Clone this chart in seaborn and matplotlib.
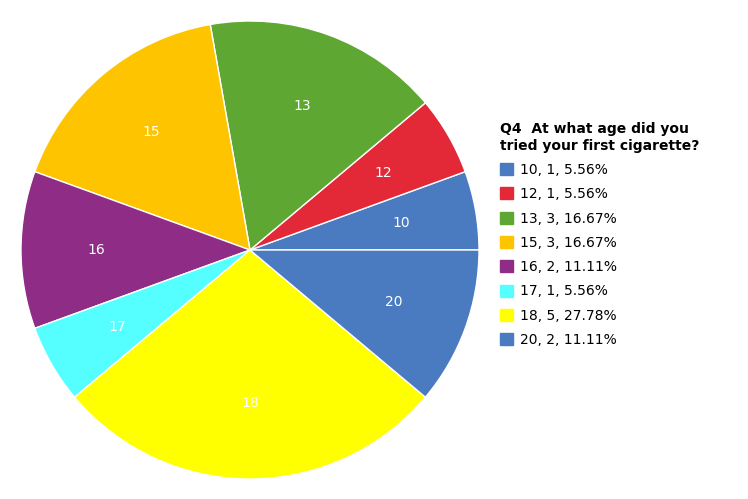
import matplotlib
matplotlib.use("Agg")
import matplotlib.pyplot as plt
import seaborn as sns
from matplotlib.patches import Patch

ages = ['10', '12', '13', '15', '16', '17', '18', '20']
counts = [1, 1, 3, 3, 2, 1, 5, 2]
percents = ['5.56%', '5.56%', '16.67%', '16.67%', '11.11%', '5.56%', '27.78%', '11.11%']
colors = ['#4a7bc0', '#e32938', '#5ea733', '#ffc400', '#8f2d86', '#55ffff', '#ffff00', '#4a7bc0']
title = 'Q4  At what age did you\ntried your first cigarette?'

sns.set_style("white")
plt.rcParams['font.family'] = ['DejaVu Sans']

fig = plt.figure(figsize=(7.48, 4.99), dpi=100)
W, H = 748, 499
cx, cy, r = 250, 250, 229
ax = fig.add_axes([(cx - r) / W, (H - cy - r) / H, 2 * r / W, 2 * r / H])

wedges, texts = ax.pie(counts, labels=ages, colors=colors, startangle=0,
                       counterclock=True, labeldistance=0.67,
                       wedgeprops=dict(edgecolor='white', linewidth=1),
                       textprops=dict(color='white', fontsize=10))
for t in texts:
    t.set_horizontalalignment('center')
    t.set_verticalalignment('center')
ax.set_xlim(-1, 1)
ax.set_ylim(-1, 1)
ax.set_aspect('equal')
ax.axis('off')

handles = [Patch(facecolor=c, edgecolor=c) for c in colors]
labels = [f'{a}, {n}, {p}' for a, n, p in zip(ages, counts, percents)]
lgd = fig.legend(handles, labels, title=title, loc='upper left',
                 bbox_to_anchor=(487 / W, 1 - 110 / H), frameon=False,
                 fontsize=10, handlelength=0.95, handleheight=0.95,
                 handletextpad=0.5, labelspacing=0.74, alignment='left',
                 labelcolor='black')
lgd.get_title().set_fontweight('bold')
lgd.get_title().set_fontsize(10)
lgd.get_title().set_color('black')

fig.savefig('out.png', dpi=100)
